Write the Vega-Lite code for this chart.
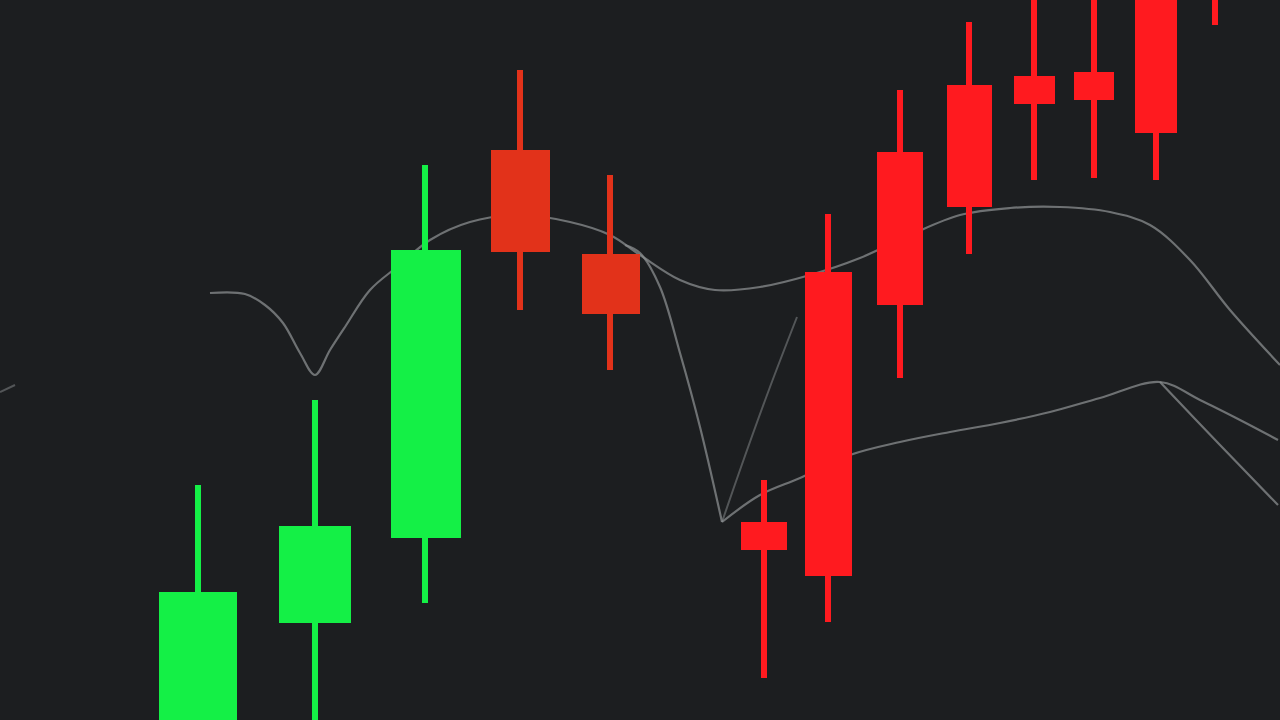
{
  "$schema": "https://vega.github.io/schema/vega-lite/v6.json",
  "width": 1280,
  "height": 720,
  "autosize": {"type": "fit", "contains": "padding"},
  "padding": 0,
  "background": "#1c1e20",
  "config": {"view": {"stroke": null}},
  "datasets": {
    "candles": [
      {"t": 1, "mid": 198, "left": 159, "right": 237, "open": 128, "close": -20, "high": 235, "low": -30, "kind": "bull"},
      {"t": 2, "mid": 315, "left": 279, "right": 351, "open": 97, "close": 194, "high": 320, "low": -20, "kind": "bull"},
      {"t": 3, "mid": 425, "left": 391, "right": 461, "open": 182, "close": 470, "high": 555, "low": 117, "kind": "bull"},
      {"t": 4, "mid": 520, "left": 491, "right": 550, "open": 570, "close": 468, "high": 650, "low": 410, "kind": "bear1"},
      {"t": 5, "mid": 610, "left": 582, "right": 640, "open": 466, "close": 406, "high": 545, "low": 350, "kind": "bear1"},
      {"t": 6, "mid": 764, "left": 741, "right": 787, "open": 198, "close": 170, "high": 240, "low": 42, "kind": "bear2"},
      {"t": 7, "mid": 828, "left": 805, "right": 852, "open": 448, "close": 144, "high": 506, "low": 98, "kind": "bear2"},
      {"t": 8, "mid": 900, "left": 877, "right": 923, "open": 568, "close": 415, "high": 630, "low": 342, "kind": "bear2"},
      {"t": 9, "mid": 969, "left": 947, "right": 992, "open": 635, "close": 513, "high": 698, "low": 466, "kind": "bear2"},
      {"t": 10, "mid": 1034, "left": 1014, "right": 1055, "open": 644, "close": 616, "high": 760, "low": 540, "kind": "bear2"},
      {"t": 11, "mid": 1094, "left": 1074, "right": 1114, "open": 648, "close": 620, "high": 760, "low": 542, "kind": "bear2"},
      {"t": 12, "mid": 1156, "left": 1135, "right": 1177, "open": 760, "close": 587, "high": 780, "low": 540, "kind": "bear2"},
      {"t": 13, "mid": 1215, "left": 1195, "right": 1235, "open": 800, "close": 780, "high": 800, "low": 695, "kind": "bear2"}
    ],
    "lines": [
      {"s": "A", "x": 210, "v": 427}, {"s": "A", "x": 245, "v": 426}, {"s": "A", "x": 265, "v": 415},
      {"s": "A", "x": 283, "v": 397}, {"s": "A", "x": 300, "v": 367}, {"s": "A", "x": 315, "v": 345},
      {"s": "A", "x": 330, "v": 370}, {"s": "A", "x": 345, "v": 393}, {"s": "A", "x": 370, "v": 430},
      {"s": "A", "x": 397, "v": 453}, {"s": "A", "x": 430, "v": 480}, {"s": "A", "x": 470, "v": 498},
      {"s": "A", "x": 520, "v": 505}, {"s": "A", "x": 570, "v": 498}, {"s": "A", "x": 610, "v": 485},
      {"s": "A", "x": 640, "v": 465}, {"s": "A", "x": 680, "v": 440}, {"s": "A", "x": 715, "v": 430},
      {"s": "A", "x": 760, "v": 433}, {"s": "A", "x": 810, "v": 445}, {"s": "A", "x": 860, "v": 462},
      {"s": "A", "x": 910, "v": 485}, {"s": "A", "x": 960, "v": 505}, {"s": "A", "x": 1010, "v": 512},
      {"s": "A", "x": 1060, "v": 513}, {"s": "A", "x": 1110, "v": 508}, {"s": "A", "x": 1150, "v": 495},
      {"s": "A", "x": 1190, "v": 460}, {"s": "A", "x": 1230, "v": 410}, {"s": "A", "x": 1280, "v": 355},
      {"s": "B", "x": 625, "v": 475}, {"s": "B", "x": 640, "v": 467}, {"s": "B", "x": 660, "v": 433},
      {"s": "B", "x": 680, "v": 367}, {"s": "B", "x": 700, "v": 293}, {"s": "B", "x": 722, "v": 198},
      {"s": "C", "x": 722, "v": 198}, {"s": "C", "x": 740, "v": 250}, {"s": "C", "x": 770, "v": 333},
      {"s": "C", "x": 797, "v": 403},
      {"s": "D", "x": 722, "v": 198}, {"s": "D", "x": 760, "v": 225}, {"s": "D", "x": 800, "v": 242},
      {"s": "D", "x": 850, "v": 265}, {"s": "D", "x": 900, "v": 278}, {"s": "D", "x": 950, "v": 288},
      {"s": "D", "x": 1000, "v": 297}, {"s": "D", "x": 1050, "v": 308}, {"s": "D", "x": 1100, "v": 322},
      {"s": "D", "x": 1160, "v": 338}, {"s": "D", "x": 1200, "v": 320}, {"s": "D", "x": 1240, "v": 300},
      {"s": "D", "x": 1278, "v": 280},
      {"s": "E", "x": 1160, "v": 338}, {"s": "E", "x": 1220, "v": 275}, {"s": "E", "x": 1278, "v": 215},
      {"s": "F", "x": 0, "v": 328}, {"s": "F", "x": 15, "v": 335}
    ]
  },
  "layer": [
    {
      "data": {"name": "lines"},
      "transform": [{"filter": "datum.s != 'C' && datum.s != 'F'"}],
      "mark": {"type": "line", "interpolate": "catmull-rom", "strokeWidth": 2.2, "color": "#8a8d8f", "opacity": 0.75, "clip": true},
      "encoding": {
        "x": {"field": "x", "type": "quantitative", "scale": {"domain": [0, 1280], "nice": false, "zero": false}, "axis": null},
        "y": {"field": "v", "type": "quantitative", "scale": {"domain": [0, 720], "nice": false, "zero": false}, "axis": null},
        "detail": {"field": "s"}
      }
    },
    {
      "data": {"name": "lines"},
      "transform": [{"filter": "datum.s == 'C' || datum.s == 'F'"}],
      "mark": {"type": "line", "interpolate": "catmull-rom", "strokeWidth": 2, "color": "#8a8d8f", "opacity": 0.5, "clip": true},
      "encoding": {
        "x": {"field": "x", "type": "quantitative", "axis": null},
        "y": {"field": "v", "type": "quantitative", "axis": null},
        "detail": {"field": "s"}
      }
    },
    {
      "data": {"name": "candles"},
      "mark": {"type": "rule", "strokeWidth": 6, "clip": true},
      "encoding": {
        "x": {"field": "mid", "type": "quantitative", "axis": null},
        "y": {"field": "low", "type": "quantitative", "axis": null},
        "y2": {"field": "high"},
        "color": {"field": "kind", "type": "nominal", "scale": {"domain": ["bull", "bear1", "bear2"], "range": ["#14f046", "#e2321a", "#ff1a1f"]}, "legend": null}
      }
    },
    {
      "data": {"name": "candles"},
      "mark": {"type": "rect", "clip": true},
      "encoding": {
        "x": {"field": "left", "type": "quantitative", "axis": null},
        "x2": {"field": "right"},
        "y": {"field": "open", "type": "quantitative", "axis": null},
        "y2": {"field": "close"},
        "color": {"field": "kind", "type": "nominal", "legend": null}
      }
    }
  ]
}
